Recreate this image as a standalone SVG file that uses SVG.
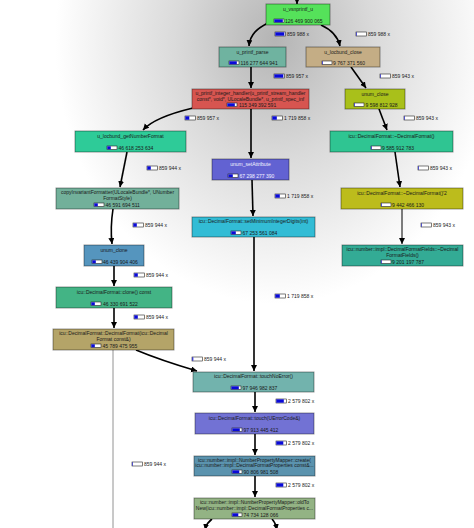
<svg xmlns="http://www.w3.org/2000/svg" width="474" height="528" viewBox="0 0 474 528">
<defs>
<radialGradient id="bg" gradientUnits="userSpaceOnUse" cx="275" cy="40" r="220" gradientTransform="translate(275 40) scale(1 1.2) translate(-275 -40)">
<stop offset="0" stop-color="#b4b4b4"/>
<stop offset="0.45" stop-color="#dadada"/>
<stop offset="1" stop-color="#ffffff"/>
</radialGradient>
<marker id="arr" markerUnits="userSpaceOnUse" markerWidth="7" markerHeight="7" refX="6" refY="3" orient="auto">
<path d="M0,0 L6,3 L0,6 z" fill="#000"/>
</marker>
</defs>
<style>
.n rect.b{stroke:rgba(0,0,0,0.4);stroke-width:1}
.t{font-family:"Liberation Sans",Arial,sans-serif;font-size:5px;fill:#1a1a1a}
.w{fill:#f4f4ff}
.bar{fill:#fff;stroke:#222;stroke-width:0.6}
.bf{fill:#0a0ad8}
.e path{fill:none;stroke:#000;stroke-width:1.6;marker-end:url(#arr)}
.e path.thin{stroke-width:1}
.e path.gray{stroke:#777;stroke-width:0.8;marker-end:none}
</style>
<rect x="0" y="0" width="474" height="528" fill="url(#bg)"/>

<g id="connectors" class="e">
<path d="M297,-4 L297,4"/>
<path d="M268,23 C258,28 250,34 249,46"/>
<path d="M321,25 C332,30 338,37 340,46"/>
<path d="M251,67 L251,88"/>
<path d="M351,67 L366,88"/>
<path d="M193,108 C172,113 152,120 143,130"/>
<path d="M251,109 L251,158"/>
<path d="M379,109 L387,130"/>
<path d="M127,152 L120,187"/>
<path d="M252,180 L253,216"/>
<path d="M395,152 L400,187"/>
<path d="M113,209 C111,222 111,235 112,244"/>
<path class="thin" d="M402,209 L402,244"/>
<path d="M114,266 L114,286"/>
<path d="M254,237 L254,371"/>
<path d="M114,308 L114,328"/>
<path d="M136,350 C160,360 180,366 197,371"/>
<path d="M255,392 L255,412"/>
<path d="M255,434 L255,455"/>
<path d="M255,476 L255,497"/>
<path class="gray" d="M113,350 L113,528"/>
<path d="M212,519 C208,522 206,525 205,530"/>
<path d="M272,519 C275,522 276,525 277,530"/>
</g>

<g id="edge-labels">
<rect class="bar" x="275" y="32" width="10.5" height="4"/><rect class="bf" x="275.3" y="32.3" width="9" height="3.4"/><text class="t" x="287" y="36">859 988 x</text>
<rect class="bar" x="356" y="32" width="10.5" height="4"/><rect class="bf" x="356.3" y="32.3" width="0.6" height="3.4"/><text class="t" x="368" y="36">859 988 x</text>
<rect class="bar" x="274" y="74" width="10.5" height="4"/><rect class="bf" x="274.3" y="74.3" width="9" height="3.4"/><text class="t" x="286" y="78">859 957 x</text>
<rect class="bar" x="380" y="74" width="10.5" height="4"/><rect class="bf" x="380.3" y="74.3" width="0.6" height="3.4"/><text class="t" x="392" y="78">859 943 x</text>
<rect class="bar" x="185" y="116" width="10.5" height="4"/><rect class="bf" x="185.3" y="116.3" width="4" height="3.4"/><text class="t" x="197" y="120">859 957 x</text>
<rect class="bar" x="272" y="116" width="10.5" height="4"/><rect class="bf" x="272.3" y="116.3" width="4.5" height="3.4"/><text class="t" x="284" y="120">1 719 858 x</text>
<rect class="bar" x="404" y="116" width="10.5" height="4"/><rect class="bf" x="404.3" y="116.3" width="0.6" height="3.4"/><text class="t" x="416" y="120">859 943 x</text>
<rect class="bar" x="147" y="166" width="10.5" height="4"/><rect class="bf" x="147.3" y="166.3" width="3.5" height="3.4"/><text class="t" x="159" y="170">859 944 x</text>
<rect class="bar" x="418" y="166" width="10.5" height="4"/><rect class="bf" x="418.3" y="166.3" width="0.6" height="3.4"/><text class="t" x="430" y="170">859 943 x</text>
<rect class="bar" x="275" y="194" width="10.5" height="4"/><rect class="bf" x="275.3" y="194.3" width="4.5" height="3.4"/><text class="t" x="287" y="198">1 719 858 x</text>
<rect class="bar" x="133" y="223" width="10.5" height="4"/><rect class="bf" x="133.3" y="223.3" width="3.5" height="3.4"/><text class="t" x="145" y="227">859 944 x</text>
<rect class="bar" x="421" y="223" width="10.5" height="4"/><rect class="bf" x="421.3" y="223.3" width="0.6" height="3.4"/><text class="t" x="433" y="227">859 943 x</text>
<rect class="bar" x="134" y="273" width="10.5" height="4"/><rect class="bf" x="134.3" y="273.3" width="3.5" height="3.4"/><text class="t" x="146" y="277">859 944 x</text>
<rect class="bar" x="275" y="294" width="10.5" height="4"/><rect class="bf" x="275.3" y="294.3" width="4.5" height="3.4"/><text class="t" x="287" y="298">1 719 858 x</text>
<rect class="bar" x="134" y="315" width="10.5" height="4"/><rect class="bf" x="134.3" y="315.3" width="3.5" height="3.4"/><text class="t" x="146" y="319">859 944 x</text>
<rect class="bar" x="192" y="357" width="10.5" height="4"/><rect class="bf" x="192.3" y="357.3" width="1" height="3.4"/><text class="t" x="204" y="361">859 944 x</text>
<rect class="bar" x="276" y="399" width="10.5" height="4"/><rect class="bf" x="276.3" y="399.3" width="7.5" height="3.4"/><text class="t" x="288" y="403">2 579 802 x</text>
<rect class="bar" x="276" y="441" width="10.5" height="4"/><rect class="bf" x="276.3" y="441.3" width="7" height="3.4"/><text class="t" x="288" y="445">2 579 802 x</text>
<rect class="bar" x="132" y="462" width="10.5" height="4"/><rect class="bf" x="132.3" y="462.3" width="0.6" height="3.4"/><text class="t" x="144" y="466">859 944 x</text>
<rect class="bar" x="276" y="483" width="10.5" height="4"/><rect class="bf" x="276.3" y="483.3" width="7" height="3.4"/><text class="t" x="288" y="487">2 579 802 x</text>
</g>

<g id="n1" class="n"><rect class="b" x="266" y="4" width="64" height="21" fill="#55e25a"/><text class="t" x="298" y="11" text-anchor="middle">u_vsnprintf_u</text><rect class="bar" x="274" y="19" width="10" height="3.6"/><rect class="bf" x="274.3" y="19.3" width="8.5" height="3"/><text class="t" x="285" y="22.5">126 469 900 065</text></g>

<g id="n2" class="n"><rect class="b" x="219" y="47" width="67" height="20" fill="#6fb3a0"/><text class="t" x="252.5" y="53.5" text-anchor="middle">u_printf_parse</text><rect class="bar" x="229" y="61" width="10" height="3.6"/><rect class="bf" x="229.3" y="61.3" width="7.5" height="3"/><text class="t" x="240.5" y="64.5">116 277 644 941</text></g>

<g id="n3" class="n"><rect class="b" x="306" y="47" width="74" height="20" fill="#c4ad85"/><text class="t" x="343" y="53.5" text-anchor="middle">u_locbund_close</text><rect class="bar" x="322" y="61" width="10" height="3.6"/><rect class="bf" x="322.3" y="61.3" width="0.6" height="3"/><text class="t" x="333" y="64.5">9 767 371 560</text></g>

<g id="n4" class="n"><rect class="b" x="192" y="89" width="117" height="20" fill="#d75550"/><text class="t" x="250.5" y="94.5" text-anchor="middle">u_printf_integer_handler(u_printf_stream_handler</text><text class="t" x="250.5" y="100.5" text-anchor="middle">const*, void*, ULocaleBundle*, u_printf_spec_inf</text><rect class="bar" x="227" y="103" width="10" height="3.6"/><rect class="bf" x="227.3" y="103.3" width="7.5" height="3"/><text class="t" x="239" y="106.5">115 349 392 591</text></g>

<g id="n5" class="n"><rect class="b" x="345" y="89" width="60" height="20" fill="#a9c01a"/><text class="t" x="375" y="95.5" text-anchor="middle">unum_close</text><rect class="bar" x="354" y="103" width="10" height="3.6"/><rect class="bf" x="354.3" y="103.3" width="0.6" height="3"/><text class="t" x="365.5" y="106.5">9 598 812 928</text></g>

<g id="n6" class="n"><rect class="b" x="75" y="131" width="111" height="21" fill="#2ecb98"/><text class="t" x="130.5" y="137.5" text-anchor="middle">u_locbund_getNumberFormat</text><rect class="bar" x="107" y="146" width="10" height="3.6"/><rect class="bf" x="107.3" y="146.3" width="3.5" height="3"/><text class="t" x="118.5" y="149.5">46 618 253 634</text></g>

<g id="n7" class="n"><rect class="b" x="330" y="131" width="123" height="21" fill="#2fc592"/><text class="t" x="391.5" y="137.5" text-anchor="middle">icu::DecimalFormat::~DecimalFormat()</text><rect class="bar" x="371" y="146" width="10" height="3.6"/><rect class="bf" x="371.3" y="146.3" width="0.6" height="3"/><text class="t" x="382" y="149.5">9 585 912 783</text></g>

<g id="n8" class="n"><rect class="b" x="212" y="159" width="77" height="21" fill="#6262d2"/><text class="t w" x="250.5" y="165.5" text-anchor="middle">unum_setAttribute</text><rect class="bar" x="228" y="174" width="10" height="3.6"/><rect class="bf" x="228.3" y="174.3" width="4.5" height="3"/><text class="t w" x="239.5" y="177.5">67 298 277 390</text></g>

<g id="n9" class="n"><rect class="b" x="56" y="188" width="123" height="21" fill="#72b09a"/><text class="t" x="117.5" y="193.5" text-anchor="middle">copyInvariantFormatter(ULocaleBundle*, UNumber</text><text class="t" x="117.5" y="199.5" text-anchor="middle">FormatStyle)</text><rect class="bar" x="94" y="203" width="10" height="3.6"/><rect class="bf" x="94.3" y="203.3" width="3.5" height="3"/><text class="t" x="105.5" y="206.5">46 591 694 511</text></g>

<g id="n10" class="n"><rect class="b" x="341" y="188" width="122" height="21" fill="#bcbc1c"/><text class="t" x="402" y="194.5" text-anchor="middle">icu::DecimalFormat::~DecimalFormat()'2</text><rect class="bar" x="381" y="203" width="10" height="3.6"/><rect class="bf" x="381.3" y="203.3" width="0.6" height="3"/><text class="t" x="392" y="206.5">9 442 466 130</text></g>

<g id="n11" class="n"><rect class="b" x="192" y="217" width="123" height="20" fill="#32bcd5"/><text class="t" x="253.5" y="223" text-anchor="middle">icu::DecimalFormat::setMinimumIntegerDigits(int)</text><rect class="bar" x="231" y="231" width="10" height="3.6"/><rect class="bf" x="231.3" y="231.3" width="4.5" height="3"/><text class="t" x="242.5" y="234.5">67 253 561 084</text></g>

<g id="n12" class="n"><rect class="b" x="84" y="245" width="60" height="21" fill="#5595be"/><text class="t" x="114" y="251.5" text-anchor="middle">unum_clone</text><rect class="bar" x="92" y="260" width="10" height="3.6"/><rect class="bf" x="92.3" y="260.3" width="3.5" height="3"/><text class="t" x="103" y="263.5">46 439 904 406</text></g>

<g id="n13" class="n"><rect class="b" x="342" y="245" width="121" height="21" fill="#33ab95"/><text class="t" x="402.5" y="250.5" text-anchor="middle">icu::number::impl::DecimalFormatFields::~Decimal</text><text class="t" x="402.5" y="256.5" text-anchor="middle">FormatFields()</text><rect class="bar" x="381" y="260" width="10" height="3.6"/><rect class="bf" x="381.3" y="260.3" width="0.6" height="3"/><text class="t" x="392" y="263.5">9 201 197 787</text></g>

<g id="n14" class="n"><rect class="b" x="56" y="287" width="116" height="21" fill="#43b485"/><text class="t" x="114" y="293.5" text-anchor="middle">icu::DecimalFormat::clone() const</text><rect class="bar" x="91" y="302" width="10" height="3.6"/><rect class="bf" x="91.3" y="302.3" width="3.5" height="3"/><text class="t" x="103" y="305.5">46 330 691 522</text></g>

<g id="n15" class="n"><rect class="b" x="53" y="329" width="121" height="21" fill="#b4a468"/><text class="t" x="113.5" y="334.5" text-anchor="middle">icu::DecimalFormat::DecimalFormat(icu::Decimal</text><text class="t" x="113.5" y="340.5" text-anchor="middle">Format const&amp;)</text><rect class="bar" x="91" y="344" width="10" height="3.6"/><rect class="bf" x="91.3" y="344.3" width="3.5" height="3"/><text class="t" x="102.5" y="347.5">45 789 475 955</text></g>

<g id="n16" class="n"><rect class="b" x="193" y="372" width="121" height="20" fill="#72b3ad"/><text class="t" x="253.5" y="378" text-anchor="middle">icu::DecimalFormat::touchNoError()</text><rect class="bar" x="231" y="386" width="10" height="3.6"/><rect class="bf" x="231.3" y="386.3" width="7.5" height="3"/><text class="t" x="242.5" y="389.5">97 946 982 837</text></g>

<g id="n17" class="n"><rect class="b" x="195" y="413" width="119" height="21" fill="#7272d4"/><text class="t" x="254.5" y="419.5" text-anchor="middle">icu::DecimalFormat::touch(UErrorCode&amp;)</text><rect class="bar" x="232" y="428" width="10" height="3.6"/><rect class="bf" x="232.3" y="428.3" width="7.5" height="3"/><text class="t" x="243.5" y="431.5">97 913 445 412</text></g>

<g id="n18" class="n"><rect class="b" x="194" y="456" width="121" height="20" fill="#5b93ae"/><text class="t" x="254.5" y="461.5" text-anchor="middle">icu::number::impl::NumberPropertyMapper::create(</text><text class="t" x="254.5" y="467" text-anchor="middle">icu::number::impl::DecimalFormatProperties const&amp;...</text><rect class="bar" x="232" y="470" width="10" height="3.6"/><rect class="bf" x="232.3" y="470.3" width="7" height="3"/><text class="t" x="243.5" y="473.5">90 806 981 508</text></g>

<g id="n19" class="n"><rect class="b" x="194" y="498" width="121" height="21" fill="#93b384"/><text class="t" x="254.5" y="503.5" text-anchor="middle">icu::number::impl::NumberPropertyMapper::oldTo</text><text class="t" x="254.5" y="509.5" text-anchor="middle">New(icu::number::impl::DecimalFormatProperties c...</text><rect class="bar" x="232" y="513" width="10" height="3.6"/><rect class="bf" x="232.3" y="513.3" width="6" height="3"/><text class="t" x="243.5" y="516.5">74 734 128 066</text></g>
</svg>
